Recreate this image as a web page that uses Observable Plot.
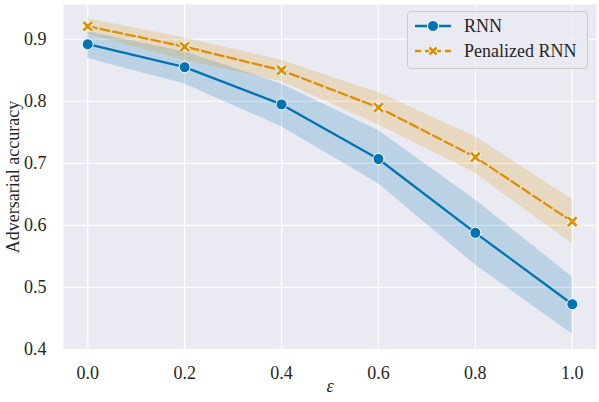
<!DOCTYPE html>
<html>
<head>
<meta charset="utf-8">
<script src="https://cdn.jsdelivr.net/npm/d3@7"></script>
<script src="https://cdn.jsdelivr.net/npm/@observablehq/plot@0.6"></script>
<style>
  body { margin: 0; background: #fff; }
  #wrap { position: relative; width: 599px; height: 402px; }
  .legend {
    position: absolute; left: 407px; top: 11px; width: 179px; height: 56px;
    background: rgba(234, 234, 242, 0.8); border: 1px solid #cccccc; border-radius: 4px;
    font-family: "Liberation Serif", serif; font-size: 18px; color: #262626;
  }
  .legend .row { position: absolute; left: 6px; height: 22px; display: flex; align-items: center; }
  .legend svg { margin-right: 12px; }
</style>
</head>
<body>
<div id="wrap"></div>
<script>
const eps = [0, 0.2, 0.4, 0.6, 0.8, 1.0];
const rnnMean = [0.892, 0.855, 0.795, 0.707, 0.588, 0.473];
const rnnLow  = [0.869, 0.828, 0.759, 0.667, 0.536, 0.425];
const rnnHigh = [0.912, 0.880, 0.828, 0.753, 0.641, 0.517];
const penMean = [0.921, 0.888, 0.850, 0.790, 0.710, 0.606];
const penLow  = [0.908, 0.866, 0.832, 0.762, 0.684, 0.570];
const penHigh = [0.933, 0.902, 0.866, 0.814, 0.743, 0.642];

const blue = "#0173B2";
const orange = "#DE8F05";

const rnn = eps.map((e, i) => ({e, m: rnnMean[i], lo: rnnLow[i], hi: rnnHigh[i]}));
const pen = eps.map((e, i) => ({e, m: penMean[i], lo: penLow[i], hi: penHigh[i]}));

const chart = Plot.plot({
  width: 599,
  height: 402,
  marginLeft: 63,
  marginRight: 3,
  marginTop: 4,
  marginBottom: 53,
  style: {fontFamily: "'Liberation Serif', serif", fontSize: "18px", color: "#262626", background: "#fff"},
  x: {
    domain: [-0.05, 1.05],
    ticks: eps,
    tickFormat: d3.format(".1f"),
    tickSize: 0,
    tickPadding: 17,
    label: "ε",
    labelAnchor: "center",
    labelArrow: "none",
    labelOffset: 42
  },
  y: {
    domain: [0.4, 0.956],
    ticks: [0.4, 0.5, 0.6, 0.7, 0.8, 0.9],
    tickFormat: d3.format(".1f"),
    tickSize: 0,
    tickPadding: 17,
    label: "Adversarial accuracy",
    labelAnchor: "center",
    labelArrow: "none",
    labelOffset: 57
  },
  marks: [
    Plot.frame({fill: "#EAEAF2", stroke: null}),
    Plot.gridX(eps, {stroke: "#fff", strokeOpacity: 1, strokeWidth: 1.2}),
    Plot.gridY([0.4, 0.5, 0.6, 0.7, 0.8, 0.9], {stroke: "#fff", strokeOpacity: 1, strokeWidth: 1.2}),
    Plot.areaY(rnn, {x: "e", y1: "lo", y2: "hi", fill: blue, fillOpacity: 0.2}),
    Plot.areaY(pen, {x: "e", y1: "lo", y2: "hi", fill: orange, fillOpacity: 0.2}),
    Plot.line(rnn, {x: "e", y: "m", stroke: blue, strokeWidth: 2.3}),
    Plot.line(pen, {x: "e", y: "m", stroke: orange, strokeWidth: 2.3, strokeDasharray: "9,4"}),
    Plot.dot(rnn, {x: "e", y: "m", r: 5.5, fill: blue, stroke: "#fff", strokeWidth: 1}),
    Plot.dot(pen, {x: "e", y: "m", symbol: "times", r: 4, stroke: "#fff", strokeWidth: 5}),
    Plot.dot(pen, {x: "e", y: "m", symbol: "times", r: 4, stroke: orange, strokeWidth: 2.8})
  ]
});

d3.select(chart).select('[aria-label="x-axis label"]').attr("font-style", "italic");

const wrap = d3.select("#wrap");
wrap.append(() => chart);

const legend = wrap.append("div").attr("class", "legend");
const rows = [
  {name: "RNN", color: blue, dash: null, sym: "circle"},
  {name: "Penalized RNN", color: orange, dash: "6,4", sym: "x"}
];
rows.forEach((r, i) => {
  const row = legend.append("div").attr("class", "row").style("top", (3 + i * 25) + "px");
  const s = row.append("svg").attr("width", 38).attr("height", 20);
  s.append("line").attr("x1", 1).attr("x2", 37).attr("y1", 10).attr("y2", 10)
    .attr("stroke", r.color).attr("stroke-width", 2.3).attr("stroke-dasharray", r.dash);
  if (r.sym === "circle") {
    s.append("circle").attr("cx", 19).attr("cy", 10).attr("r", 5.5).attr("fill", r.color).attr("stroke", "#fff");
  } else {
    s.append("path").attr("d", "M15.5,6.5L22.5,13.5M22.5,6.5L15.5,13.5").attr("stroke", "#fff").attr("stroke-width", 5);
    s.append("path").attr("d", "M15.5,6.5L22.5,13.5M22.5,6.5L15.5,13.5").attr("stroke", r.color).attr("stroke-width", 2.8);
  }
  row.append("span").text(r.name);
});
</script>
</body>
</html>
